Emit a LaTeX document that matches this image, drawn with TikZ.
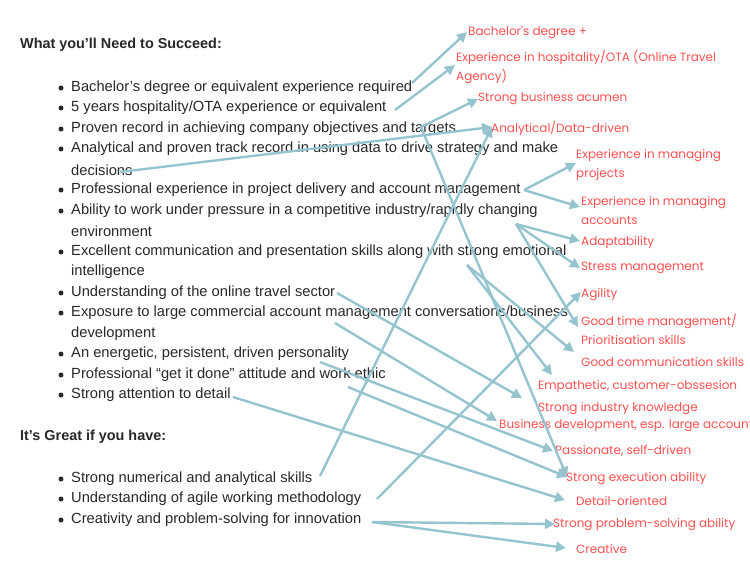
\documentclass[tikz,border=0pt]{standalone}
\usepackage{fontspec}
\setmainfont{Liberation Sans}
\newfontfamily\redf{Poppins}
\usetikzlibrary{arrows.meta}
\definecolor{arr}{RGB}{150,196,206}
\definecolor{lab}{RGB}{255,80,80}
\definecolor{txt}{RGB}{40,40,40}
\begin{document}
\begin{tikzpicture}[x=1pt,y=-1pt,
  t/.style={anchor=west,inner sep=0,text=txt,font=\fontsize{14.7}{16}\selectfont},
  r/.style={anchor=west,inner sep=0,text=lab,font=\redf\fontsize{12}{19}\selectfont,align=left},
  a/.style={draw=arr,line width=2.4pt,-{Triangle[length=10pt,width=10pt]}}]
\useasboundingbox (0,0) rectangle (750,563);
\node[t,font=\bfseries\fontsize{14.4}{16}\selectfont] (h1) at (20,45) {What you'll Need to Succeed:};
\node[t,font=\bfseries\fontsize{14.4}{16}\selectfont] (h2) at (20,437) {It's Great if you have:};
\foreach \y/\s [count=\i] in {
 88/{Bachelor’s degree or equivalent experience required},
 108/{5 years hospitality/OTA experience or equivalent},
 129/{Proven record in achieving company objectives and targets},
 149/{Analytical and proven track record in using data to drive strategy and make},
 170/{decisions},
 190/{Professional experience in project delivery and account management},
 211/{Ability to work under pressure in a competitive industry/rapidly changing},
 231/{environment},
 252/{Excellent communication and presentation skills along with strong emotional},
 272/{intelligence},
 293/{Understanding of the online travel sector},
 313/{Exposure to large commercial account management conversations/business},
 334/{development},
 354/{An energetic, persistent, driven personality},
 375/{Professional “get it done” attitude and work ethic},
 395/{Strong attention to detail},
 479/{Strong numerical and analytical skills},
 499/{Understanding of agile working methodology},
 520/{Creativity and problem-solving for innovation}}
 {\node[t] (b\i) at (71,\y) {\s};}
\foreach \y in {88,108,129,149,190,211,252,293,313,354,375,395,479,499,520}
 \fill[txt] (61,\y) circle (2.5);
% red labels
\node[r] (l1) at (468,32) {Bachelor's degree +};
\node[r] (l2) at (456,67) {Experience in hospitality/OTA (Online Travel\\Agency)};
\node[r] (l3) at (478,99) {Strong business acumen};
\node[r] (l4) at (491,128) {Analytical/Data-driven};
\node[r] (l5) at (576,165) {Experience in managing\\projects};
\node[r] (l6) at (581,210) {Experience in managing\\accounts};
\node[r] (l7) at (581,242) {Adaptability};
\node[r] (l8) at (581,268) {Stress management};
\node[r] (l9) at (581,295) {Agility};
\node[r] (l10) at (581,329) {Good time management/\\Prioritisation skills};
\node[r] (l11) at (581,362) {Good communication skills};
\node[r] (l12) at (538,386) {Empathetic, customer-obssesion};
\node[r] (l13) at (538,409) {Strong industry knowledge};
\node[r] (l14) at (499,426) {Business development, esp. large account};
\node[r] (l15) at (555,451) {Passionate, self-driven};
\node[r] (l16) at (566,479) {Strong execution ability};
\node[r] (l17) at (576,501) {Detail-oriented};
\node[r] (l18) at (553,525) {Strong problem-solving ability};
\node[r] (l19) at (576,549) {Creative};
% tails
\coordinate (s1) at (412,83);
\coordinate (s2) at (395,110);
\coordinate (s3) at (421,127);
\coordinate (s4) at (120,172);
\coordinate (s5) at (524,190);
\coordinate (s6) at (516,224);
\coordinate (s7) at (467,265);
\coordinate (s8) at (337,293);
\coordinate (s9) at (335,323);
\coordinate (s10) at (320,362);
\coordinate (s11) at (348,387);
\coordinate (s12) at (233,397);
\coordinate (s13) at (320,476);
\coordinate (s14) at (377,499);
\coordinate (s15) at (372,522);
% heads
\coordinate (e1) at (467,32);
\coordinate (e2) at (455,65);
\coordinate (e3) at (478,99);
\coordinate (e4) at (492,127);
\coordinate (e5) at (576,163);
\coordinate (e6) at (580,207);
\coordinate (e7) at (580,241);
\coordinate (e8) at (580,268);
\coordinate (e9) at (581,292);
\coordinate (e10) at (578,327);
\coordinate (e11) at (574,352);
\coordinate (e12) at (552,375);
\coordinate (e13) at (522,398);
\coordinate (e14) at (497,421);
\coordinate (e15) at (553,451);
\coordinate (e16) at (567,477);
\coordinate (e17) at (565,500);
\coordinate (e18) at (555,524);
\coordinate (e19) at (566,548);
\draw[a] (s1) -- (e1);
\draw[a] (s2) -- (e2);
\draw[a] (s3) -- (e3);
\draw[a] (s4) -- (e4);
\draw[a] (s5) -- (e5);
\draw[a] (s5) -- (e6);
\draw[a] (s6) -- (e7);
\draw[a] (s6) -- (e8);
\draw[a] (s6) -- (e10);
\draw[a] (s7) -- (e11);
\draw[a] (s7) -- (e12);
\draw[a] (s3) -- (e16);
\draw[a] (s8) -- (e13);
\draw[a] (s9) -- (e14);
\draw[a] (s10) -- (e15);
\draw[a] (s11) -- (e16);
\draw[a] (s12) -- (e17);
\draw[a] (s13) -- (e4);
\draw[a] (s14) -- (e9);
\draw[a] (s15) -- (e18);
\draw[a] (s15) -- (e19);
\end{tikzpicture}
\end{document}
